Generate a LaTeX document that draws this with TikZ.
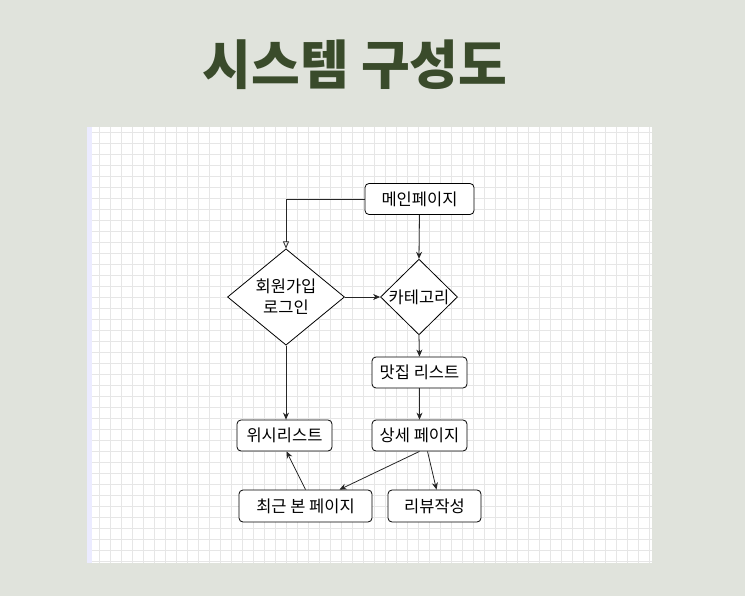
\documentclass[tikz,border=0pt]{standalone}
\usepackage{fontspec}
\setmainfont{Noto Sans CJK KR}
\usetikzlibrary{shapes.geometric,arrows.meta}
\definecolor{bgc}{HTML}{E0E3DC}
\definecolor{titlec}{HTML}{3A4B2B}
\definecolor{gridc}{HTML}{E6E6E6}
\begin{document}
\begin{tikzpicture}[x=1pt,y=-1pt,
  box/.style={draw=black,line width=0.8pt,rounded corners=4pt,fill=white,minimum width=#1,minimum height=31pt,inner sep=0pt,font=\fontsize{16.5}{18}\selectfont},
  dia/.style={draw=black,line width=0.8pt,diamond,fill=white,inner sep=0pt,font=\fontsize{16.5}{21}\selectfont,align=center},
  conn/.style={draw=black!85,line width=0.8pt,-{Stealth[length=7pt,width=6pt]}}]
\fill[bgc] (0,0) rectangle (745,596);
\useasboundingbox (0,0) rectangle (745,596);
\node[font=\fontsize{53}{56}\selectfont\bfseries,text=titlec] (title) at (355,65) {시스템 구성도};
\fill[white] (87,127) rectangle (652,563);
\draw[gridc,line width=0.5pt] (87,127) grid[step=11pt] (652,563);
\fill[blue!8] (87,127) rectangle (92,563);
\node[box=109pt] (main) at (419.5,199) {메인페이지};
\node[dia,minimum width=117pt,minimum height=90pt] (join) at (286,297) {회원가입\\로그인};
\node[dia,minimum width=77pt,minimum height=63pt] (cat) at (419,297) {카테고리};
\node[box=95pt] (list) at (419.5,372.5) {맛집 리스트};
\node[box=95pt] (detail) at (419.5,435.5) {상세 페이지};
\node[box=95pt] (wish) at (284.5,435.5) {위시리스트};
\node[box=133pt,minimum height=32pt] (recent) at (305.5,506) {최근 본 페이지};
\node[box=93pt,minimum height=32pt] (review) at (434.5,506) {리뷰작성};
\draw[draw=black!85,line width=0.8pt,-{Triangle[open,length=7pt,width=6pt]}] (main.west) -| (join.north);
\draw[conn] (main.south) -- (cat.north);
\draw[conn] (join.east) -- (cat.west);
\draw[conn] (join.south) -- (wish.north -| join.south);
\draw[conn] (cat.south) -- (list.north);
\draw[conn] (list.south) -- (detail.north);
\draw[conn] (detail.south) -- ([xshift=34pt]recent.north);
\draw[conn] ([xshift=8pt]detail.south) -- ([xshift=2pt]review.north);
\draw[conn] (recent.north) -- ([xshift=2pt]wish.south);
\end{tikzpicture}
\end{document}
